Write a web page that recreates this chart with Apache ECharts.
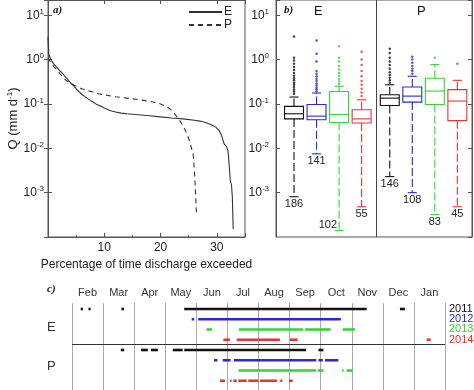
<!DOCTYPE html>
<html><head><meta charset="utf-8">
<script src="https://cdn.jsdelivr.net/npm/echarts@6/dist/echarts.min.js"></script>
<style>html,body{margin:0;padding:0;background:#fff}#c{width:474px;height:390px}</style>
</head><body><div id="c"></div>
<script>
// ---------- Panel a: flow duration curves [percent exceeded, Q] ----------
const curveE = [[0,3.2],[0.15,1.3],[0.5,1.0],[1,0.8],[1.5,0.68],[2,0.58],[2.5,0.5],[3,0.42],[3.5,0.36],[4,0.3],[4.5,0.26],[5,0.22],[5.5,0.19],[6,0.165],[6.5,0.148],[7,0.133],[7.5,0.12],[8,0.11],[8.5,0.1],[9,0.093],[9.5,0.087],[10,0.081],[10.5,0.076],[11,0.071],[12,0.066],[13,0.062],[14,0.06],[16,0.057],[18,0.054],[20,0.051],[22,0.048],[24,0.046],[26,0.043],[27,0.041],[28,0.038],[29,0.034],[29.8,0.03],[30.4,0.025],[30.8,0.02],[31.1,0.015],[31.3,0.0126],[31.7,0.011],[32,0.0085],[32.2,0.004],[32.4,0.0018],[32.6,0.0015],[32.75,0.0008],[32.9,0.00015]];
const curveP = [[0,1.1],[0.5,0.85],[1,0.7],[1.5,0.6],[2,0.5],[2.5,0.42],[3,0.36],[3.5,0.32],[4,0.29],[5,0.25],[6,0.22],[7,0.2],[8,0.185],[9,0.17],[10,0.16],[12,0.145],[14,0.135],[16,0.125],[18,0.115],[19,0.108],[20,0.1],[21,0.088],[21.7,0.077],[22.5,0.06],[23.2,0.046],[24,0.032],[24.7,0.021],[25.2,0.014],[25.6,0.009],[25.8,0.0074],[26.1,0.002],[26.4,0.0003]];
const xTicksA = [10,20,30];
const yTickExps = [1,0,-1,-2,-3];

// ---------- Panel b: box plots (E: 2011-2014, P: 2011-2014) ----------
const boxYears = ['2011','2012','2013','2014','2011','2012','2013','2014'];
const boxPos   = [1,2,3,4,5.25,6.25,7.25,8.25];
const boxLow   = [0.00081,0.0075,0.00014,0.00048,0.0023,0.001,0.00032,0.00048];
const boxQ1    = [0.046,0.044,0.038,0.037,0.092,0.11,0.097,0.042];
const boxMed   = [0.060,0.053,0.058,0.046,0.135,0.15,0.195,0.116];
const boxQ3    = [0.088,0.097,0.19,0.074,0.161,0.24,0.38,0.21];
const boxHigh  = [0.143,0.176,0.25,0.124,0.27,0.42,0.77,0.34];
const boxCount = [186,141,102,55,146,108,83,45];
const outliers = [
  [0.17,0.19,0.21,0.24,0.27,0.3,0.34,0.38,0.43,0.5,0.58,0.68,0.8,0.95,1.1,3.3],
  [0.19,0.21,0.23,0.26,0.29,0.33,0.37,0.42,0.48,0.55,0.9,1.35,2.7],
  [0.28,0.32,0.37,0.43,0.5,0.6,0.72,0.9,1.1,2.0],
  [0.15,0.18,0.22,0.27,0.33,0.42,0.55,0.75,1.0,1.5],
  [0.3,0.34,0.39,0.45,0.52,0.62,0.75,0.9,1.1,1.4,1.75],
  [0.48,0.55,0.62,0.72,0.85,1.0,1.15],
  [1.1],
  [0.8]
];
const groupNames = ['E','P'];
const groupSplit = 4.64;

// ---------- Panel c: periods with flow (month units from 1 Feb) ----------
const months = ['Feb','Mar','Apr','May','Jun','Jul','Aug','Sep','Oct','Nov','Dec','Jan'];
const years = ['2011','2012','2013','2014'];
const segE2011 = [[0.28,0.35],[0.53,0.6],[1.59,1.67],[3.61,9.48],[10.55,10.71]];
const segE2012 = [[3.85,3.93],[4.06,8.65]];
const segE2013 = [[4.33,4.51],[5.37,7.44],[7.5,8.32],[8.71,9.1]];
const segE2014 = [[4.87,5.08],[5.3,6.69],[7.01,7.26],[11.41,11.54]];
const segP2011 = [[1.57,1.68],[2.22,2.44],[2.54,2.76],[3.24,3.56],[3.61,7.53],[7.93,8.09]];
const segP2012 = [[4.57,4.68],[4.85,5.1],[5.21,7.86],[7.93,8.07],[8.14,8.57]];
const segP2013 = [[5.36,7.85],[7.9,8.09],[8.69,8.74],[8.84,9.03]];
const segP2014 = [[4.76,4.92],[5.08,5.13],[5.19,5.3],[5.35,5.62],[5.67,6.0],[6.05,6.59],[6.7,6.77],[6.98,7.1]];
const rowSplit = 3.41;

const yearColors = ['#111111','#2a2ad0','#33d433','#e03636'];
const FONT = "'Liberation Sans', Arial, sans-serif";
const axisCol = '#555';

function pow10Label(v){
  const e = Math.log10(v), r = Math.round(e);
  if (Math.abs(e - r) > 1e-6 || !yTickExps.includes(r)) return '';
  return '{a|10}{b|' + r + '}';
}
const richPow = {
  a:{fontSize:12, color:'#222', lineHeight:15, fontFamily:FONT},
  b:{fontSize:8, color:'#222', lineHeight:9, verticalAlign:'top', fontFamily:FONT}
};

const segRows = [segE2011,segE2012,segE2013,segE2014,segP2011,segP2012,segP2013,segP2014];
const segData = [];
segRows.forEach((segs,row)=>segs.forEach(s=>segData.push([s[0],s[1],row,row%4])));

const boxData = boxPos.map((p,i)=>[p,boxLow[i],boxQ1[i],boxMed[i],boxQ3[i],boxHigh[i],boxCount[i]]);
const outData = [];
outliers.forEach((arr,i)=>arr.forEach(v=>outData.push({value:[boxPos[i],v], itemStyle:{color:yearColors[i%4]}})));

function logAxis(grid, pos, labels){
  return {
    gridIndex:grid, type:'log', logBase:10, min:1e-4, max:22, position:pos,
    axisLine:{show:true, lineStyle:{color:axisCol}},
    axisTick:{show:true, inside:true, length:4, lineStyle:{color:axisCol}},
    axisLabel:{show:labels, formatter:pow10Label, rich:richPow, margin:pos==='left'&&grid===1?7:4, showMinLabel:false},
    splitLine:{show:false}
  };
}

const yA = logAxis(0,'left',true);
yA.name = '{m|Q (mm d}{s|-1}{m|)}';
yA.nameLocation = 'middle'; yA.nameRotate = 90; yA.nameGap = 27;
yA.nameTextStyle = {rich:{m:{fontSize:13,color:'#222',lineHeight:15,fontFamily:FONT}, s:{fontSize:8,color:'#222',lineHeight:9,verticalAlign:'top',fontFamily:FONT}}};

const option = {
  backgroundColor:'#fff',
  animation:false,
  textStyle:{fontFamily:FONT},
  grid:[
    {left:48, top:0, width:197, height:237, show:true, borderColor:axisCol, borderWidth:1, containLabel:false, outerBoundsMode:'none'},
    {left:276, top:0, width:196, height:237, show:true, borderColor:axisCol, borderWidth:1, containLabel:false, outerBoundsMode:'none'},
    {left:72, top:303, width:373, height:87, containLabel:false, outerBoundsMode:'none'}
  ],
  xAxis:[
    {gridIndex:0, type:'value', min:0, max:35, interval:10, position:'bottom',
     axisLine:{lineStyle:{color:axisCol}}, axisTick:{inside:true, length:4, lineStyle:{color:axisCol}},
     minorTick:{show:true, splitNumber:2, length:2, lineStyle:{color:axisCol}},
     axisLabel:{fontSize:12, color:'#222', margin:5, formatter:v=>xTicksA.includes(v)?String(v):''},
     splitLine:{show:false},
     name:'Percentage of time discharge exceeded', nameLocation:'middle', nameGap:22,
     nameTextStyle:{fontSize:12, color:'#222'}},
    {gridIndex:0, type:'value', min:0, max:35, interval:10, position:'top',
     axisLine:{lineStyle:{color:axisCol}}, axisTick:{inside:true, length:4, lineStyle:{color:axisCol}},
     axisLabel:{show:false}, splitLine:{show:false}},
    {gridIndex:1, type:'value', min:0.2, max:8.9, show:false},
    {gridIndex:2, type:'category', data:months, position:'top', boundaryGap:true,
     axisLine:{show:false}, axisTick:{show:false},
     axisLabel:{fontSize:11, color:'#333', margin:5},
     splitLine:{show:true, lineStyle:{color:'#aaa', width:1}}},
    {gridIndex:2, type:'value', min:0, max:12, show:false}
  ],
  yAxis:[
    yA,
    logAxis(0,'right',false),
    logAxis(1,'left',true),
    logAxis(1,'right',false),
    {gridIndex:2, type:'value', inverse:true, min:-0.585, max:7.9, show:false}
  ],
  legend:[{
    data:['E','P'], left:188, top:6, orient:'vertical', itemWidth:33, itemHeight:10, itemGap:1,
    padding:0, itemStyle:{opacity:0}, textStyle:{fontSize:12, color:'#222', padding:[0,0,0,-3]}
  }],
  graphic:[
    {type:'text', left:53, top:5, style:{text:'a)', font:'italic bold 11px "Liberation Serif", serif', fill:'#111'}},
    {type:'text', left:284, top:5, style:{text:'b)', font:'italic bold 11px "Liberation Serif", serif', fill:'#111'}},
    {type:'text', left:314, top:5, style:{text:groupNames[0], font:'13px '+FONT, fill:'#111'}},
    {type:'text', left:417, top:5, style:{text:groupNames[1], font:'13px '+FONT, fill:'#111'}},
    {type:'text', left:47, top:284, style:{text:'c)', font:'italic bold 11px "Liberation Serif", serif', fill:'#111'}},
    {type:'text', left:47, top:321, style:{text:groupNames[0], font:'13px '+FONT, fill:'#333'}},
    {type:'text', left:47, top:360, style:{text:groupNames[1], font:'13px '+FONT, fill:'#333'}},
    ...years.map((y,i)=>({type:'text', left:449, top:303+i*10.4, style:{text:y, font:'11px '+FONT, fill:yearColors[i]}}))
  ],
  series:[
    {name:'E', type:'line', xAxisIndex:0, yAxisIndex:0, data:curveE, symbol:'none', showSymbol:false,
     lineStyle:{color:'#333', width:1.1}, itemStyle:{color:'#333'}},
    {name:'P', type:'line', xAxisIndex:0, yAxisIndex:0, data:curveP, symbol:'none', showSymbol:false,
     lineStyle:{color:'#333', width:1.1, type:[5,4]}, itemStyle:{color:'#333'}},
    {type:'custom', xAxisIndex:2, yAxisIndex:2, data:boxData, clip:false,
     encode:{x:0, y:[1,2,3,4,5]},
     renderItem:function(params, api){
       const i = params.dataIndex;
       const x = api.value(0), low = api.value(1), q1 = api.value(2), med = api.value(3), q3 = api.value(4), high = api.value(5);
       const col = yearColors[i%4];
       const tl = api.coord([x-0.42, q3]), br = api.coord([x+0.42, q1]);
       const pL = api.coord([x, low]), pH = api.coord([x, high]), pM = api.coord([x, med]);
       const cL = api.coord([x-0.2, low])[0], cR = api.coord([x+0.2, low])[0];
       const bottom = params.coordSys.y + params.coordSys.height;
       const nearBottom = pL[1] + 14 > bottom;
       const txt = nearBottom
         ? {type:'text', x:pL[0]-2, y:pL[1]-6, style:{text:String(api.value(6)), align:'right', verticalAlign:'middle', fill:'#222', font:'11px '+FONT}}
         : {type:'text', x:pL[0], y:pL[1]+2, style:{text:String(api.value(6)), align:'center', verticalAlign:'top', fill:'#222', font:'11px '+FONT}};
       return {type:'group', children:[
         {type:'rect', shape:{x:tl[0], y:tl[1], width:br[0]-tl[0], height:br[1]-tl[1]}, style:{fill:'none', stroke:col, lineWidth:1.1}},
         {type:'line', shape:{x1:tl[0], y1:pM[1], x2:br[0], y2:pM[1]}, style:{stroke:col, lineWidth:1.1}},
         {type:'line', shape:{x1:pH[0], y1:tl[1], x2:pH[0], y2:pH[1]}, style:{stroke:col, lineWidth:1.1, lineDash:[8,3]}},
         {type:'line', shape:{x1:pL[0], y1:br[1], x2:pL[0], y2:pL[1]}, style:{stroke:col, lineWidth:1.1, lineDash:[8,3]}},
         {type:'line', shape:{x1:cL, y1:pH[1], x2:cR, y2:pH[1]}, style:{stroke:col, lineWidth:1.1}},
         {type:'line', shape:{x1:cL, y1:pL[1], x2:cR, y2:pL[1]}, style:{stroke:col, lineWidth:1.1}},
         txt
       ]};
     },
     markLine:{silent:true, symbol:'none', label:{show:false}, lineStyle:{color:'#444', width:1, type:'solid'},
       data:[{xAxis:groupSplit}]}
    },
    {type:'scatter', xAxisIndex:2, yAxisIndex:2, data:outData, symbol:'circle', symbolSize:2.5, silent:true},
    {type:'custom', xAxisIndex:4, yAxisIndex:4, data:segData, clip:false,
     encode:{x:[0,1], y:2},
     renderItem:function(params, api){
       const p0 = api.coord([api.value(0), api.value(2)]);
       const p1 = api.coord([api.value(1), api.value(2)]);
       return {type:'rect', shape:{x:p0[0], y:p0[1]-1.3, width:Math.max(p1[0]-p0[0],1.5), height:2.6},
               style:{fill:yearColors[api.value(3)]}};
     },
     markLine:{silent:true, symbol:'none', label:{show:false}, lineStyle:{color:'#333', width:1, type:'solid'},
       data:[{yAxis:rowSplit}]}
    }
  ]
};
const chart = echarts.init(document.getElementById('c'), null, {renderer:'canvas'});
chart.setOption(option);
</script>
</body></html>
